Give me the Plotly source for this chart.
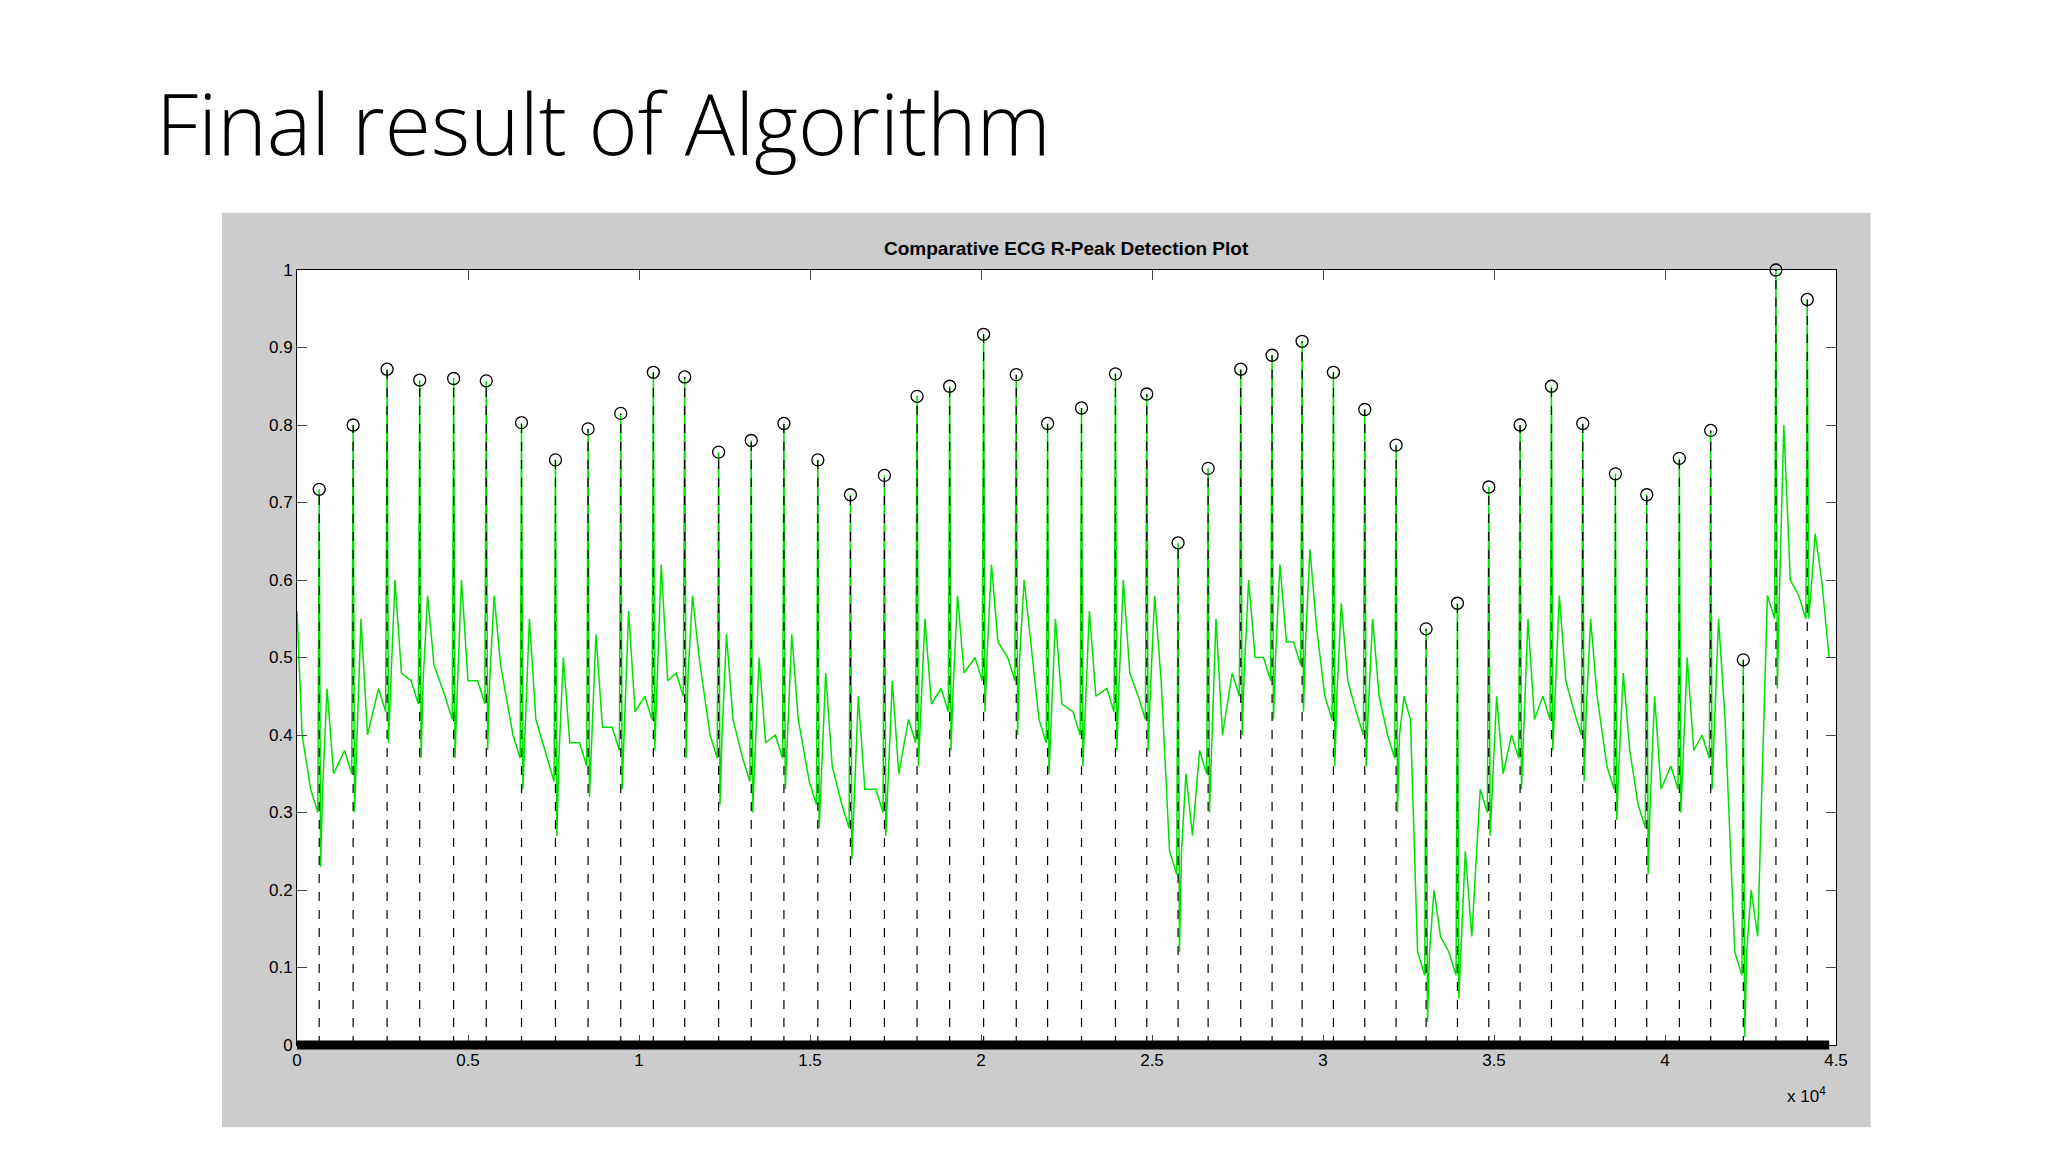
import plotly.graph_objects as go

# R-peak sample positions and amplitudes
peak_x = [649,1641,2634,3588,4580,5534,6565,7557,8511,9466,10420,11336,12328,13282,14237,15229,
          16183,17176,18130,19084,20076,21031,21947,22939,23931,24847,25763,26641,27595,28511,29389,
          30305,31221,32137,33015,33931,34847,35763,36680,37595,38550,39466,40420,41336,42290,43244,44160]
peak_y = [0.717,0.80,0.872,0.858,0.86,0.857,0.803,0.755,0.795,0.815,0.868,0.862,0.765,0.78,0.802,0.755,
          0.71,0.735,0.837,0.85,0.917,0.865,0.802,0.822,0.866,0.84,0.648,0.744,0.872,0.89,0.908,
          0.868,0.82,0.774,0.537,0.57,0.72,0.80,0.85,0.802,0.737,0.71,0.757,0.793,0.497,1.0,0.962]
# per-beat signal levels
base = [0.33,0.38,0.46,0.47,0.45,0.47,0.40,0.37,0.39,0.41,0.45,0.48,0.40,0.37,0.40,0.34,0.31,0.33,
        0.42,0.46,0.50,0.50,0.42,0.43,0.46,0.45,0.25,0.38,0.48,0.50,0.52,0.45,0.43,0.40,0.12,0.12,
        0.33,0.40,0.45,0.43,0.36,0.31,0.36,0.40,0.12,0.58,0.58]
low = [0.23,0.30,0.39,0.37,0.37,0.38,0.33,0.27,0.32,0.33,0.38,0.37,0.31,0.30,0.33,0.28,0.24,0.27,
       0.36,0.38,0.43,0.40,0.35,0.36,0.38,0.38,0.12,0.30,0.40,0.42,0.43,0.36,0.36,0.30,0.03,0.06,
       0.27,0.33,0.38,0.34,0.29,0.22,0.30,0.33,0.01,0.46,0.55]
tw = [0.46,0.55,0.60,0.58,0.60,0.58,0.55,0.50,0.53,0.56,0.62,0.58,0.53,0.50,0.53,0.48,0.45,0.47,
      0.55,0.58,0.62,0.60,0.55,0.56,0.60,0.58,0.35,0.55,0.60,0.62,0.64,0.57,0.55,0.45,0.20,0.25,
      0.45,0.55,0.58,0.55,0.48,0.45,0.50,0.55,0.20,0.80,0.66]
sig_start = [0.56, 0.40]
sig_end = 0.50
x_end = 44800

sx = [0, 150]; sy = list(sig_start)
for px, r, b, l, t in zip(peak_x, peak_y, base, low, tw):
    sx += [px-250, px-40, px, px+40, px+100, px+230, px+420]
    sy += [b, b-0.03, r, l, b, t, b+0.02]
sx.append(x_end); sy.append(sig_end)

fig = go.Figure()
fig.add_trace(go.Scatter(x=sx, y=sy, mode="lines", line=dict(color="#00e000", width=1.5), hoverinfo="skip"))
sx2, sy2 = [], []
for px, r in zip(peak_x, peak_y):
    sx2 += [px, px, None]; sy2 += [0, r, None]
fig.add_trace(go.Scatter(x=sx2, y=sy2, mode="lines", line=dict(color="black", width=1.2, dash="dash")))
fig.add_trace(go.Scatter(x=peak_x, y=peak_y, mode="markers", cliponaxis=False,
                         marker=dict(symbol="circle-open", size=12, color="black", line=dict(width=1.3))))
fig.add_shape(type="line", xref="x", yref="paper", x0=0, x1=x_end, y0=0, y1=0,
              line=dict(color="black", width=9), layer="above")
fig.add_shape(type="rect", xref="paper", yref="paper", x0=-0.0488, x1=1.0225, y0=-0.106, y1=1.074,
              fillcolor="#cccccc", line=dict(width=0), layer="below")
fig.add_shape(type="rect", xref="paper", yref="paper", x0=0, x1=1, y0=0, y1=1,
              fillcolor="white", line=dict(width=0), layer="below")

xt = [0,0.5,1,1.5,2,2.5,3,3.5,4,4.5]
yt = [0,0.1,0.2,0.3,0.4,0.5,0.6,0.7,0.8,0.9,1]
tickfont = dict(family="Liberation Sans", size=17, color="black")
fig.update_xaxes(range=[0, 45000], tickvals=[v*1e4 for v in xt], ticktext=[f"{v:g}" for v in xt],
                 ticks="inside", ticklen=10, mirror="ticks", showline=True, linecolor="black",
                 showgrid=False, zeroline=False, tickfont=tickfont)
fig.update_yaxes(range=[0, 1], tickvals=yt, ticktext=[f"{v:g}" for v in yt],
                 ticks="inside", ticklen=10, mirror="ticks", showline=True, linecolor="black",
                 showgrid=False, zeroline=False, tickfont=tickfont)
fig.update_layout(width=2048, height=1152, showlegend=False, paper_bgcolor="white", plot_bgcolor="white",
                  margin=dict(l=289, r=220, t=262, b=115),
                  annotations=[
                      dict(text="Final result of Algorithm", xref="paper", yref="paper", x=-0.093, y=1.19,
                           xanchor="left", yanchor="middle", showarrow=False,
                           font=dict(family="Open Sans", size=84, color="black", weight=300)),
                      dict(text="<b>Comparative ECG R-Peak Detection Plot</b>", xref="paper", yref="paper",
                           x=0.5, y=1.028, xanchor="center", yanchor="middle", showarrow=False,
                           font=dict(family="Liberation Sans", size=19, color="black")),
                      dict(text="x 10<sup>4</sup>", xref="paper", yref="paper", x=0.995, y=-0.065,
                           xanchor="right", yanchor="middle", showarrow=False, font=tickfont)])
fig.write_html("out.html")
